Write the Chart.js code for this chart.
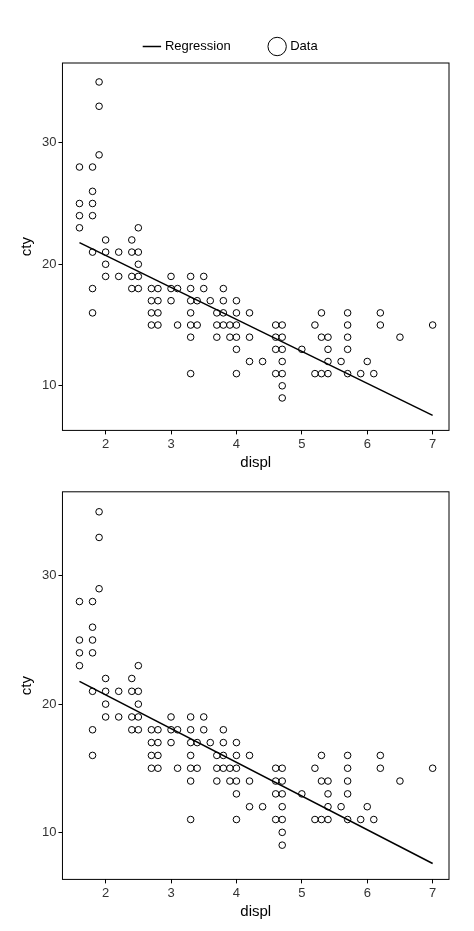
<!DOCTYPE html>
<html><head><meta charset="utf-8">
<script src="https://cdn.jsdelivr.net/npm/chart.js@4"></script>
<style>body{margin:0;background:#fff;width:474px;height:931px;overflow:hidden}
.c{position:absolute;left:0;width:474px}</style></head>
<body>
<div class="c" style="top:0;height:482px"><canvas id="a"></canvas></div>
<div class="c" style="top:482px;height:449px"><canvas id="b"></canvas></div>
<script>
const displ=[1.6,1.6,1.6,1.6,1.8,1.8,1.8,1.8,1.8,1.8,1.8,1.9,1.9,1.9,2.0,2.0,2.0,2.0,2.2,2.2,2.4,2.4,2.4,2.4,2.5,2.5,2.5,2.5,2.5,2.7,2.7,2.7,2.7,2.8,2.8,2.8,2.8,3.0,3.0,3.0,3.1,3.1,3.3,3.3,3.3,3.3,3.3,3.3,3.3,3.4,3.4,3.5,3.5,3.6,3.7,3.7,3.7,3.8,3.8,3.8,3.8,3.9,3.9,4.0,4.0,4.0,4.0,4.0,4.0,4.2,4.2,4.2,4.4,4.6,4.6,4.6,4.6,4.7,4.7,4.7,4.7,4.7,4.7,4.7,5.0,5.2,5.2,5.3,5.3,5.3,5.4,5.4,5.4,5.4,5.6,5.7,5.7,5.7,5.7,5.7,5.9,6.0,6.1,6.2,6.2,6.5,7.0];
const cty=[23,24,25,28,16,18,21,24,25,26,28,29,33,35,19,20,21,22,19,21,18,19,21,22,18,19,20,21,23,15,16,17,18,15,16,17,18,17,18,19,15,18,11,14,15,16,17,18,19,15,17,18,19,17,14,15,16,15,16,17,18,14,15,11,13,14,15,16,17,12,14,16,12,11,13,14,15,9,10,11,12,13,14,15,13,11,15,11,14,16,11,12,13,14,12,11,13,14,15,16,11,12,11,15,16,14,15];
const regX=[1.6,7.0];
const regY=[21.78,7.57];
const xTicks=[2,3,4,5,6,7];
const yTicks=[10,20,30];
const F='"Liberation Sans", Arial, sans-serif';
const frame={id:'frame',afterDraw(c){const a=c.chartArea,x=c.ctx;x.save();x.strokeStyle='#000';x.lineWidth=1;x.strokeRect(a.left,a.top,a.right-a.left,a.bottom-a.top);x.restore();}};
function make(id,legend,pad){
 new Chart(document.getElementById(id),{type:'scatter',
 data:{datasets:[
  {label:'Regression',type:'line',data:regX.map((v,i)=>({x:v,y:regY[i]})),borderColor:'#000',borderWidth:1.5,pointRadius:0,pointStyle:'line',fill:false},
  {label:'Data',data:displ.map((v,i)=>({x:v,y:cty[i]})),pointStyle:'circle',pointRadius:3.3,borderColor:'#000',backgroundColor:'rgba(0,0,0,0)',borderWidth:1}
 ]},
 options:{responsive:true,maintainAspectRatio:false,animation:false,layout:{padding:pad},
  plugins:{tooltip:{enabled:false},legend:{display:legend,position:'top',labels:{usePointStyle:true,color:'#000',font:{family:F,size:13},boxWidth:30,padding:40,
   generateLabels(ch){return ch.data.datasets.map((d,i)=>({text:d.label,datasetIndex:i,pointStyle:i?'circle':'line',strokeStyle:'#000',fillStyle:'rgba(0,0,0,0)',lineWidth:i?1:1.5,fontColor:'#000'}));}}}},
  scales:{
   x:{type:'linear',min:1.34,max:7.25,afterBuildTicks(s){s.ticks=xTicks.map(v=>({value:v}));},
    grid:{display:true,drawOnChartArea:false,drawTicks:true,tickLength:4,color:'#000'},border:{display:false},
    ticks:{color:'#333',font:{family:F,size:13},padding:2},title:{display:true,text:'displ',color:'#000',font:{family:F,size:15},padding:{top:0}}},
   y:{min:6.33,max:36.56,afterBuildTicks(s){s.ticks=yTicks.map(v=>({value:v}));},
    grid:{display:true,drawOnChartArea:false,drawTicks:true,tickLength:4,color:'#000'},border:{display:false},
    ticks:{color:'#333',font:{family:F,size:13},padding:2},title:{display:true,text:'cty',color:'#000',font:{family:F,size:15},padding:{bottom:4}}}
  }},plugins:[frame]});
}
make('a',true,{left:14,right:25,top:0,bottom:6});
make('b',false,{left:14,right:25,top:8,bottom:6});
</script></body></html>
